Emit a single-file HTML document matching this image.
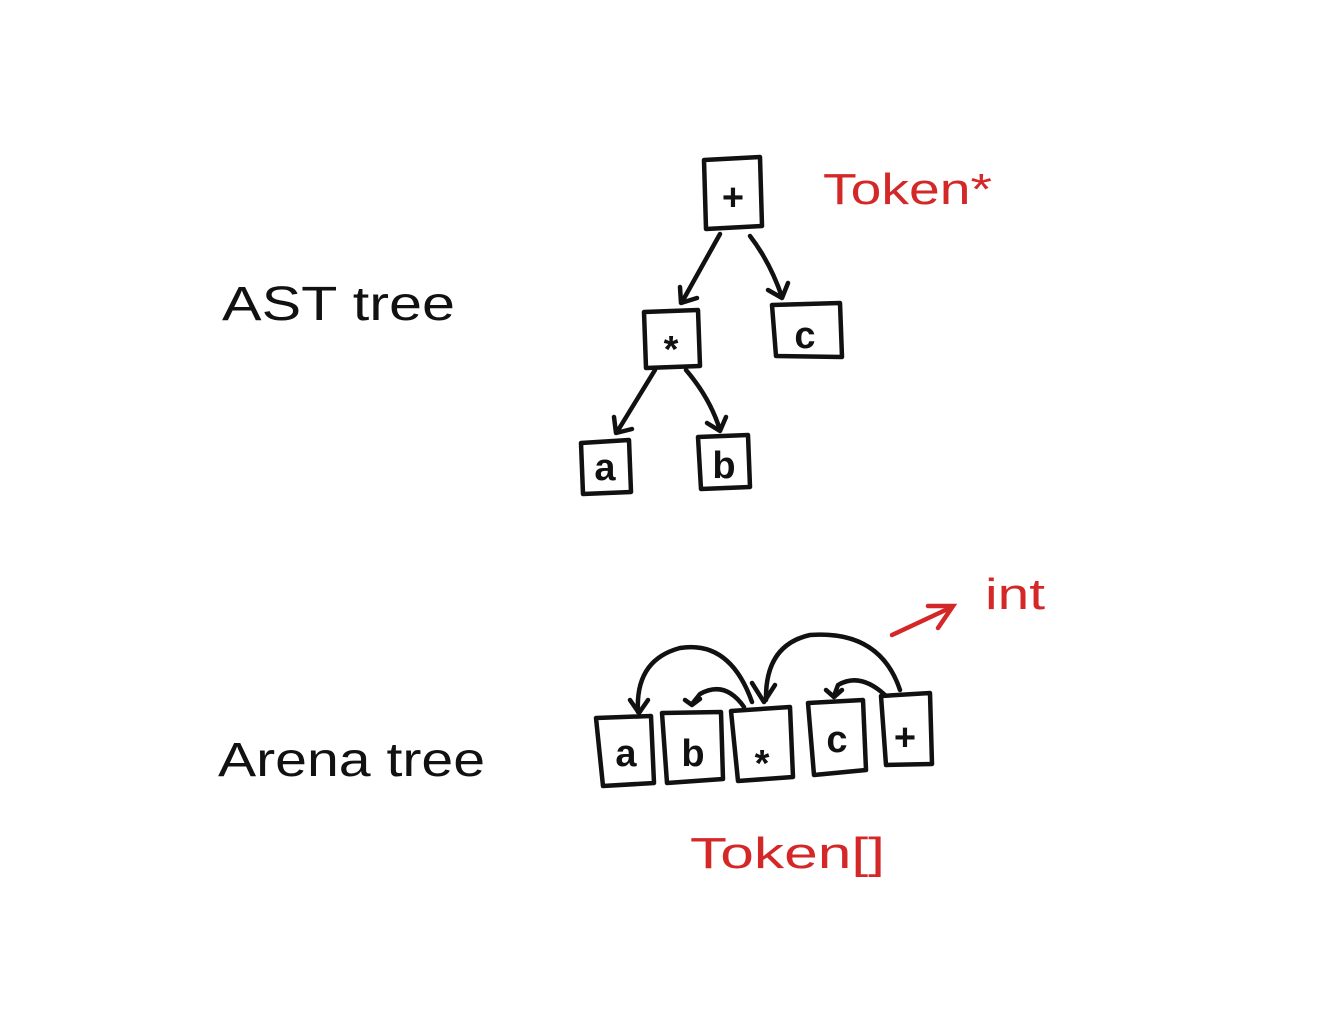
<!DOCTYPE html>
<html><head><style>
html,body{margin:0;padding:0;background:#fff;}
svg{display:block}
text{font-family:"Liberation Sans",sans-serif;}
</style></head><body>
<svg width="1341" height="1019" viewBox="0 0 1341 1019" xmlns="http://www.w3.org/2000/svg">
<g fill="none" stroke="#111" stroke-width="4.5" stroke-linecap="round" stroke-linejoin="round">
<path d="M704 160 L760 157 L762 226 L706 229 Z"/>
<path d="M644 312 L698 310 L700 366 L646 368 Z"/>
<path d="M772 305 L840 303 L842 357 L776 356 Z"/>
<path d="M581 443 L629 440 L631 492 L583 494 Z"/>
<path d="M698 437 L748 435 L750 487 L701 489 Z"/>
<path d="M720 234 L682 302"/><path d="M680 287 L681 303 L697 298"/>
<path d="M750 236 Q770 262 782 297"/><path d="M768 290 L782 298 L788 283"/>
<path d="M655 370 L617 432"/><path d="M614 417 L616 433 L632 429"/>
<path d="M686 370 Q710 398 720 430"/><path d="M707 423 L720 431 L726 417"/>
<path d="M596 718 L651 716 L654 783 L603 786 Z"/>
<path d="M662 713 L721 712 L723 779 L667 783 Z"/>
<path d="M731 711 L790 707 L793 777 L738 781 Z"/>
<path d="M808 703 L863 700 L866 770 L814 775 Z"/>
<path d="M881 696 L930 693 L932 764 L886 765 Z"/>
<path d="M752 702 Q730 640 680 648 Q635 660 638 712"/><path d="M630 700 L639 713 L648 700"/>
<path d="M900 690 Q880 630 810 635 Q765 645 766 700"/><path d="M752 683 L764 702 L775 685"/>
<path d="M744 707 Q725 680 700 694 L692 704"/><path d="M685 700 L692 705 L700 699"/>
<path d="M885 695 Q860 672 838 685 L834 696"/><path d="M826 690 L834 697 L842 690"/>
</g>
<g fill="#111" font-size="38" text-anchor="middle" font-weight="bold">
<text x="733" y="210">+</text>
<text x="671" y="362">*</text>
<text x="805" y="348">c</text>
<text x="605" y="480">a</text>
<text x="724" y="478">b</text>
<text x="626" y="766">a</text>
<text x="693" y="766">b</text>
<text x="762" y="776">*</text>
<text x="837" y="752">c</text>
<text x="905" y="750">+</text>
</g>
<g fill="none" stroke="#d42828" stroke-width="4.5" stroke-linecap="round">
<path d="M892 635 L952 607"/><path d="M928 606 L953 606 L938 628"/>
</g>
<text x="222" y="320" font-size="48" fill="#111" textLength="233" lengthAdjust="spacingAndGlyphs">AST tree</text>
<text x="218" y="776" font-size="48" fill="#111" textLength="267" lengthAdjust="spacingAndGlyphs">Arena tree</text>
<text x="823" y="204" font-size="44" fill="#d42828" textLength="169" lengthAdjust="spacingAndGlyphs">Token*</text>
<text x="985" y="609" font-size="44" fill="#d42828" textLength="60" lengthAdjust="spacingAndGlyphs">int</text>
<text x="690" y="868" font-size="44" fill="#d42828" textLength="195" lengthAdjust="spacingAndGlyphs">Token[]</text>
</svg>
</body></html>
